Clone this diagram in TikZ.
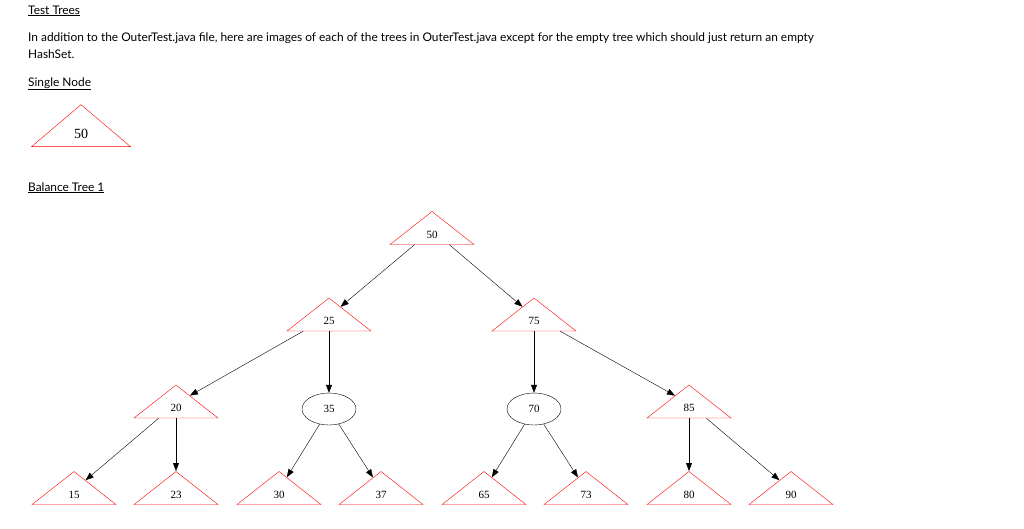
\documentclass[tikz,border=0pt]{standalone}
\usepackage{fontspec}
\setmainfont{Lato}
\newfontfamily\nodefont{Liberation Serif}
\usetikzlibrary{shapes.geometric,arrows.meta}
\begin{document}
\begin{tikzpicture}[x=1pt,y=-1pt,
  tri/.style={isosceles triangle,isosceles triangle stretches,shape border rotate=90,draw=red,inner sep=0pt,minimum width=84pt,minimum height=33pt},
  ell/.style={ellipse,draw=black,minimum width=54pt,minimum height=32pt,inner sep=0pt,font=\nodefont\fontsize{11}{12}\selectfont},
  num/.style={font=\nodefont\fontsize{11}{12}\selectfont},
  edge/.style={draw,-{Triangle[length=8pt,width=6pt]}},
  hd/.style={anchor=base west,font=\fontsize{11.9}{13}\selectfont}]
\useasboundingbox (0,0) rectangle (1024,528);
\node[hd,inner sep=0pt] (h1) at (28,14) {\underline{Test Trees}};
\node[hd,inner sep=0pt] (p1) at (28,41) {In addition to the OuterTest.java file, here are images of each of the trees in OuterTest.java except for the empty tree which should just return an empty};
\node[hd,inner sep=0pt] (p2) at (28,58) {HashSet.};
\node[hd,inner sep=0pt] (h2) at (28,86) {\underline{Single Node}};
\node[hd,inner sep=0pt] (h3) at (28,191) {\underline{Balance Tree 1}};
% single node
\node[tri,minimum width=99pt,minimum height=42pt] (s50) at (81,128.5) {};
\node[num,font=\nodefont\fontsize{14}{15}\selectfont] (s50l) at (81,134) {50};
% tree
\foreach \n/\x/\y in {50/432/230, 25/329/316.5, 75/534/316.5, 20/176/403.5, 85/689/403.5,
  15/74/490, 23/176/490, 30/279/490, 37/381/490, 65/484/490, 73/586/490, 80/689/490, 90/791/490}{
  \node[tri] (t\n) at (\x,\y) {};
  \node[num] (l\n) at (\x,\y+4.5) {\n};
}
\node[ell] (t35) at (329,409) {35};
\node[ell] (t70) at (534,409) {70};
\draw[edge] (t50) -- (t25);
\draw[edge] (t50) -- (t75);
\draw[edge] (t25) -- (t20);
\draw[edge] (t25.south) -- (t35);
\draw[edge] (t75.south) -- (t70);
\draw[edge] (t75) -- (t85);
\draw[edge] (t20) -- (t15);
\draw[edge] (t20.south) -- (t23);
\draw[edge] (t35) -- (t30);
\draw[edge] (t35) -- (t37);
\draw[edge] (t70) -- (t65);
\draw[edge] (t70) -- (t73);
\draw[edge] (t85.south) -- (t80);
\draw[edge] (t85) -- (t90);
\end{tikzpicture}
\end{document}
